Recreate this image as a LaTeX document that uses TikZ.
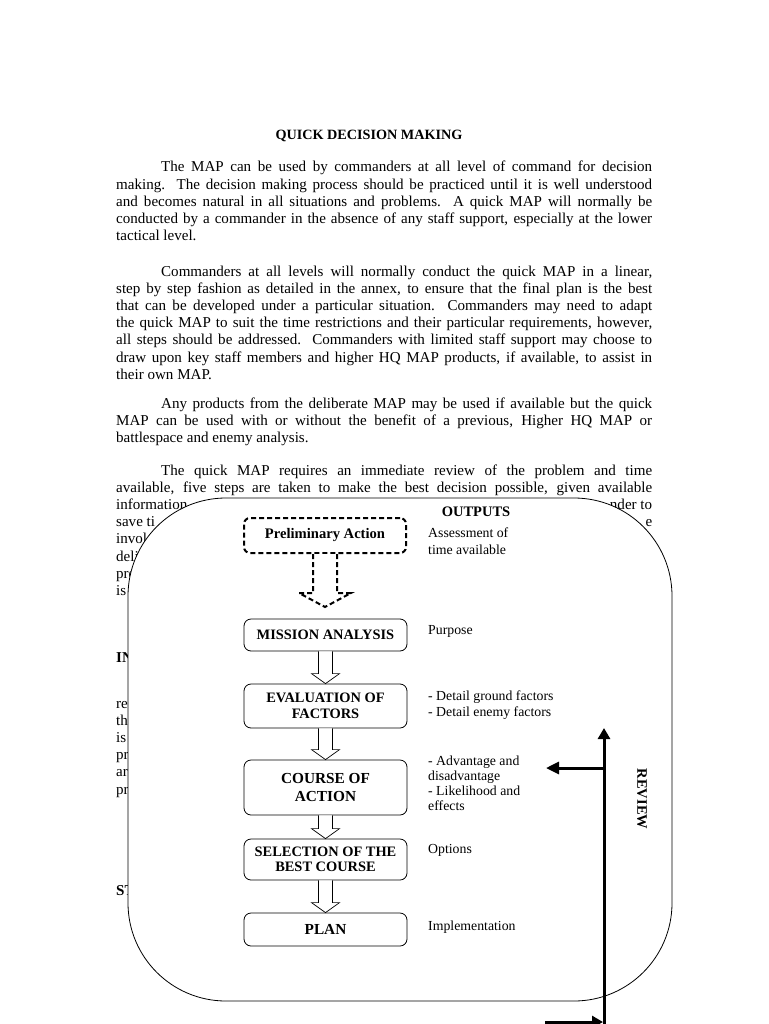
\documentclass[tikz,border=0pt]{standalone}
\usepackage{fontspec}
\setmainfont{Liberation Serif}
\usetikzlibrary{calc,arrows.meta}

\newcommand\JL[1]{\hbox to 536pt{#1}}
\newcommand\IL[1]{\hbox to 536pt{\hskip45pt #1}}
\newcommand\LL[1]{\hbox{#1}}
\newcommand\Para[1]{\vtop{\fontsize{15.06}{17.2}\selectfont\baselineskip=17.2pt\lineskiplimit=-100pt\lineskip=0pt #1}}
\newcommand\OutStack[2]{\vtop{\fontsize{13.8}{#1}\selectfont\baselineskip=#1\lineskiplimit=-100pt\lineskip=0pt\halign{##\hfil\cr#2\crcr}}}
\newcommand\harrow[2]{\draw[hollowarrow] ($(#1.south)+(-7,0)$) -- ($(#2.north)+(-7,-10)$) -- ($(#2.north)+(-14,-10)$) -- (#2.north) -- ($(#2.north)+(14,-10)$) -- ($(#2.north)+(7,-10)$) -- ($(#1.south)+(7,0)$);}

\begin{document}
\begin{tikzpicture}[x=1pt,y=-1pt,
  bodytext/.style={anchor=base west,inner sep=0pt},
  stepbox/.style={draw,line width=0.8pt,rounded corners=7pt,minimum width=163pt,inner sep=0pt,align=center,fill=white,font=\fontsize{14.4}{15.5}\selectfont\bfseries},
  bigstep/.style={stepbox,font=\fontsize{15.3}{18}\selectfont\bfseries},
  prelimbox/.style={draw,line width=2pt,dash pattern=on 5pt off 3pt,rounded corners=6pt,minimum width=162pt,minimum height=35pt,inner sep=0pt,fill=white,font=\fontsize{14.6}{16}\selectfont\bfseries},
  hollowarrow/.style={draw,line width=0.7pt,fill=white,line join=miter},
  dasharrow/.style={draw,line width=2pt,dash pattern=on 5pt off 3pt,fill=white},
  outtext/.style={anchor=base west,inner sep=0pt},
  reviewline/.style={line width=3pt},
  outerbox/.style={draw,line width=0.8pt,fill=white,rounded corners=98pt}]

\fill[white] (0,0) rectangle (768,1024);
\useasboundingbox (0,0) rectangle (768,1024);

% title
\node[anchor=base,inner sep=0pt,font=\fontsize{14.2}{17}\selectfont\bfseries] (title) at (369,140) {QUICK DECISION MAKING};

% paragraph 1
\node[bodytext] (p1) at (116,172) {\Para{%
\IL{The MAP can be used by commanders at all level of command for decision}
\JL{making.\ \ The decision making process should be practiced until it is well understood}
\JL{and becomes natural in all situations and problems.\ \ A quick MAP will normally be}
\JL{conducted by a commander in the absence of any staff support, especially at the lower}
\LL{tactical level.}}};

% paragraph 2
\node[bodytext] (p2) at (116,276) {\Para{%
\IL{Commanders at all levels will normally conduct the quick MAP in a linear,}
\JL{step by step fashion as detailed in the annex, to ensure that the final plan is the best}
\JL{that can be developed under a particular situation.\ \ Commanders may need to adapt}
\JL{the quick MAP to suit the time restrictions and their particular requirements, however,}
\JL{all steps should be addressed.\ \ Commanders with limited staff support may choose to}
\JL{draw upon key staff members and higher HQ MAP products, if available, to assist in}
\LL{their own MAP.}}};

% paragraph 3
\node[bodytext] (p3) at (116,408) {\Para{%
\IL{Any products from the deliberate MAP may be used if available but the quick}
\JL{MAP can be used with or without the benefit of a previous, Higher HQ MAP or}
\LL{battlespace and enemy analysis.}}};

% paragraph 4 (partly hidden)
\node[bodytext] (p4) at (116,475) {\Para{%
\IL{The quick MAP requires an immediate review of the problem and time}
\JL{available, five steps are taken to make the best decision possible, given available}
\JL{information\hfill nder to}
\JL{save ti\hfill e}
\LL{invol}
\LL{deli}
\LL{pre}
\LL{is}}};

% heading and paragraph (hidden)
\node[bodytext,font=\fontsize{15.06}{17.2}\selectfont\bfseries] (h1) at (116,662) {INT};
\node[bodytext] (p5) at (116,708) {\Para{%
\LL{rec}
\LL{the}
\LL{is}
\LL{pro}
\LL{are}
\LL{pro}}};
\node[bodytext,font=\fontsize{15.06}{17.2}\selectfont\bfseries] (h2) at (116,895) {STE};

% outer rounded box
\draw[outerbox] (128,498) rectangle (672,1001);

% outputs
\node[anchor=base,inner sep=0pt,font=\fontsize{14.5}{17}\selectfont\bfseries] (outputs) at (476,516) {OUTPUTS};
\node[outtext] (o1) at (428,537) {\OutStack{17pt}{Assessment of\cr time available}};
\node[outtext] (o2) at (428,634) {\OutStack{15pt}{Purpose}};
\node[outtext] (o3) at (428,700) {\OutStack{16pt}{- Detail ground factors\cr - Detail enemy factors}};
\node[outtext] (o4) at (428,765) {\OutStack{15pt}{- Advantage and\cr disadvantage\cr - Likelihood and\cr effects}};
\node[outtext] (o5) at (428,853) {\OutStack{15pt}{Options}};
\node[outtext] (o6) at (428,930) {\OutStack{15pt}{Implementation}};

% steps
\node[prelimbox] (prelim) at (325,535.5) {Preliminary Action};
\node[stepbox,minimum height=32pt] (mission) at (325.5,635) {MISSION ANALYSIS};
\node[stepbox,minimum height=44pt] (eval) at (325.5,706) {EVALUATION OF\\FACTORS};
\node[bigstep,minimum height=55pt] (coa) at (325.5,787.5) {COURSE OF\\ACTION};
\node[stepbox,minimum height=41pt] (sel) at (325.5,859.5) {SELECTION OF THE\\BEST COURSE};
\node[bigstep,minimum height=33pt] (plan) at (325.5,929.5) {PLAN};

% dashed block arrow
\coordinate (dtip) at ($(prelim.south)+(0,53)$);
\draw[dasharrow] ($(prelim.south)+(-12,0)$) -- ($(dtip)+(-12,-14)$) -- ($(dtip)+(-26,-14)$) -- (dtip) -- ($(dtip)+(26,-14)$) -- ($(dtip)+(12,-14)$) -- ($(prelim.south)+(12,0)$);

% hollow arrows
\harrow{mission}{eval}
\harrow{eval}{coa}
\harrow{coa}{sel}
\harrow{sel}{plan}

% review arrows
\coordinate (rbottom) at (604,1030);
\coordinate (rtop) at (604,728);
\coordinate (rbranch) at (604,768);
\coordinate (rleft) at (546,768);
\coordinate (binstart) at (545,1022);
\coordinate (binend) at (603,1022);
\draw[reviewline,-{Triangle[length=11pt,width=12pt]}] (rbottom) -- (rtop);
\draw[reviewline,-{Triangle[length=13pt,width=12pt]}] (rbranch) -- (rleft);
\draw[reviewline,-{Triangle[length=11pt,width=12pt]}] (binstart) -- (binend);

\node[rotate=-90,inner sep=0pt,font=\fontsize{14.5}{17}\selectfont\bfseries] (review) at (642,799) {REVIEW};

\end{tikzpicture}
\end{document}
